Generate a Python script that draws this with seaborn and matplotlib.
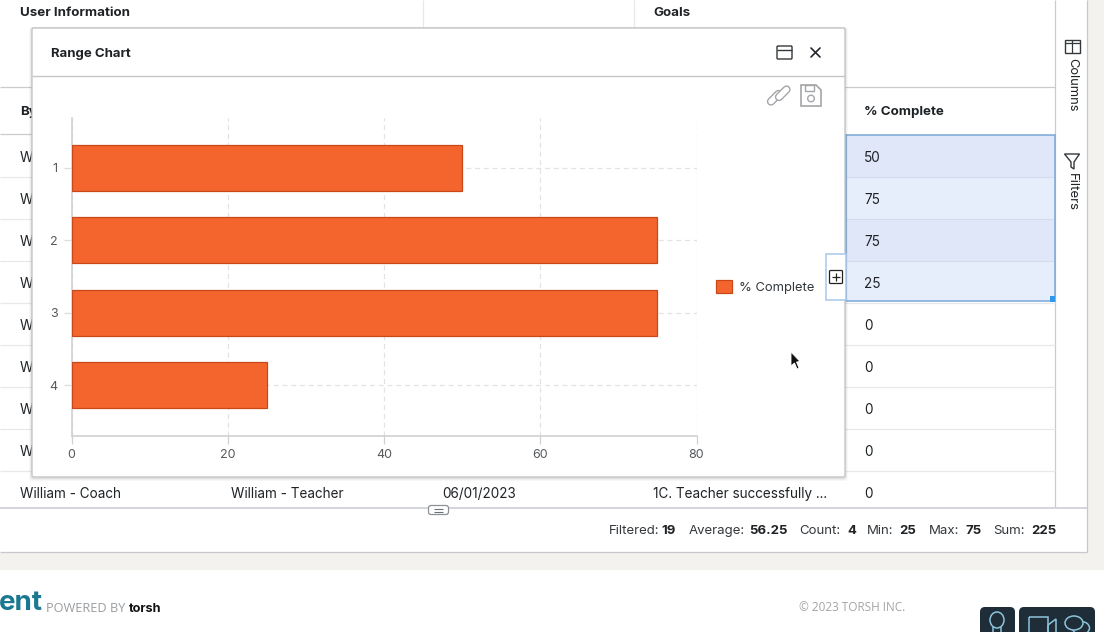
import pandas as pd
import matplotlib
matplotlib.use("Agg")
import matplotlib.pyplot as plt
from matplotlib.patches import Rectangle, FancyBboxPatch, Polygon, Circle, Ellipse
import seaborn as sns

# chart data
categories = ["1", "2", "3", "4"]
pct_complete = [50, 75, 75, 25]
series_name = "% Complete"
x_ticks = [0, 20, 40, 60, 80]

# grid values around the chart
other_cells = ["0", "0", "0", "0", "0"]
footer_labels = ["Average:", "Count:", "Min:", "Max:", "Sum:"]
footer_values = ["56.25", "4", "25", "75", "225"]

sns.set_theme(style="white")
plt.rcParams["font.family"] = ["Inter", "DejaVu Sans"]

W, H = 1104, 632
TXT = "#1f2326"
BAR = "#f4652d"
EDGE = "#c8481a"
LINE = "#c9cbce"
ROW = "#e6e8eb"

fig = plt.figure(figsize=(W / 100, H / 100), dpi=100, facecolor="white")

# page in pixel coordinates
bg = fig.add_axes([0, 0, 1, 1], zorder=0)
bg.set_xlim(0, W)
bg.set_ylim(H, 0)
bg.axis("off")


def hline(y, x0, x1, c=ROW, lw=0.9, z=1):
    bg.plot([x0, x1], [y, y], color=c, lw=lw, zorder=z, solid_capstyle="butt")


def vline(x, y0, y1, c=LINE, lw=0.9, z=1):
    bg.plot([x, x], [y0, y1], color=c, lw=lw, zorder=z, solid_capstyle="butt")


def txt(x, y, s, size=9.75, weight="normal", c=TXT, ha="left", **kw):
    bg.text(x, y, s, fontsize=size, fontweight=weight, color=c, ha=ha, va="center", **kw)


# grey page strip
bg.add_patch(Rectangle((1087, 0), 17, 570, fc="#f3f2ef", ec="none", zorder=0))
bg.add_patch(Rectangle((0, 553), 1104, 17, fc="#f3f2ef", ec="none", zorder=0))
vline(1086.5, 0, 552, c="#c6c8cb")
hline(552, 0, 1087, c="#c6c8cb")

# grid lines
vline(1055, 0, 508)
vline(423, 0, 28, c=ROW)
vline(634, 0, 28, c=ROW)
hline(86.5, 0, 1055, c=LINE)
hline(133.5, 0, 846, c=LINE)
for y in [176.5, 218.5, 260.5, 302.5, 344.5, 386.5, 428.5, 470.5]:
    hline(y, 0, 1055)
hline(507.5, 0, 1087, c="#d3d5d8", lw=1.4)

txt(20, 13, "User Information", weight="bold", size=9.6)
txt(653, 13, "Goals", weight="bold", size=9.6)
txt(20, 112.5, "By", weight="bold", size=9.6)
txt(864.5, 112.5, series_name, weight="bold", size=9.6)
for y in [158, 200, 242, 284, 326, 368, 410, 452]:
    txt(20, y, "W")

# selected range
bg.add_patch(Rectangle((846, 135), 209, 42, fc="#dfe7f9", ec="none", zorder=1))
bg.add_patch(Rectangle((846, 177), 209, 42, fc="#e6edfb", ec="none", zorder=1))
bg.add_patch(Rectangle((846, 219), 209, 42, fc="#dfe7f9", ec="none", zorder=1))
bg.add_patch(Rectangle((846, 261), 209, 40, fc="#e6edfb", ec="none", zorder=1))
bg.add_patch(Rectangle((846, 135), 209, 166, fc="none", ec="#7ba6d8", lw=1.1, zorder=3))
for y in [176.5, 218.5, 260.5]:
    hline(y, 846, 1055, c="#d3dcee", lw=0.8, z=2)
bg.add_patch(Rectangle((1049.5, 296), 5.5, 5.5, fc="#2f97ec", ec="none", zorder=4))
for y, v in zip([158, 200, 242, 284], pct_complete):
    txt(864, y, str(v))
for y, v in zip([326, 368, 410, 452, 494], other_cells):
    txt(864, y, v)

# last row
txt(20, 494, "William - Coach")
txt(231, 494, "William - Teacher")
txt(442, 494, "06/01/2023")
txt(653, 494, "1C. Teacher successfully ...")

# side panel
bg.add_patch(Rectangle((1064.5, 39.5), 15, 13, fc="none", ec="#33383c", lw=1.0, zorder=2))
hline(43, 1064.5, 1079.5, c="#33383c", lw=0.9, z=2)
vline(1072, 39.5, 52.5, c="#33383c", lw=0.9, z=2)
bg.text(1072, 58, "Columns", fontsize=9.3, color=TXT, rotation=270, ha="center", va="top")
bg.add_patch(Polygon([(1064.5, 154), (1079.5, 154), (1074, 162), (1074, 169), (1071, 167), (1071, 162)],
                     closed=True, fc="none", ec="#33383c", lw=1.0, zorder=2))
bg.text(1072, 173, "Filters", fontsize=9.5, color=TXT, rotation=270, ha="center", va="top")

# status bar
txt(608.5, 531, "Filtered:", size=9.5, c="#33383c")
txt(661.5, 531, "19", size=9.5, weight="bold")
for x0, x1, lab, val in zip([689, 799, 867, 929, 993], [749.5, 847, 899, 965, 1031],
                            footer_labels, footer_values):
    txt(x0, 531, lab, size=9.5, c="#33383c")
    txt(x1, 531, val, size=9.5, weight="bold")
bg.add_patch(FancyBboxPatch((428.5, 505.5), 20, 9, boxstyle="round,pad=0,rounding_size=2.5",
                            fc="white", ec="#8d9195", lw=0.9, zorder=4))
hline(509, 434, 443, c="#6d7175", lw=0.8, z=5)
hline(511.5, 434, 443, c="#6d7175", lw=0.8, z=5)

# footer
txt(-1, 603, "ent", size=20, weight="bold", c="#1a7890")
txt(46, 609, "POWERED BY", size=9.2, c="#9a9da0", family=["Open Sans", "DejaVu Sans"])
txt(129, 609, "torsh", size=9.2, weight="bold", c="#111111")
txt(799, 607.5, "© 2023 TORSH INC.", size=8.5, c="#a2a4a6", family=["Open Sans", "DejaVu Sans"])
bg.add_patch(FancyBboxPatch((980, 607), 35, 30, boxstyle="round,pad=0,rounding_size=5",
                            fc="#1f2d38", ec="none", zorder=2))
bg.add_patch(FancyBboxPatch((1019, 607), 76, 30, boxstyle="round,pad=0,rounding_size=5",
                            fc="#1f2d38", ec="none", zorder=2))
bg.add_patch(Ellipse((997, 620), 14, 16, fc="none", ec="#8cc4dc", lw=1.1, zorder=3))
bg.plot([993, 993], [627, 632], color="#8cc4dc", lw=1.1, zorder=3)
bg.plot([1001, 1001], [627, 632], color="#8cc4dc", lw=1.1, zorder=3)
bg.add_patch(Rectangle((1029, 617), 19, 20, fc="none", ec="#8cc4dc", lw=1.1, zorder=3))
bg.add_patch(Polygon([(1048, 625), (1056, 619), (1056, 637), (1048, 632)], closed=True,
                     fc="none", ec="#8cc4dc", lw=1.1, zorder=3))
bg.add_patch(Ellipse((1081, 628), 17, 13, fc="#1f2d38", ec="#8cc4dc", lw=1.1, zorder=3))
bg.add_patch(Ellipse((1074, 623), 18, 14, fc="#1f2d38", ec="#8cc4dc", lw=1.1, zorder=3))

# modal window
for i, a in enumerate([0.03, 0.04, 0.05]):
    bg.add_patch(FancyBboxPatch((32 - 3 + i, 28 - 1), 813 + 6 - 2 * i, 449 + 5 - i,
                                boxstyle="round,pad=0,rounding_size=3",
                                fc="black", ec="none", alpha=a, zorder=5))
bg.add_patch(FancyBboxPatch((32, 28), 813, 449, boxstyle="round,pad=0,rounding_size=2",
                            fc="white", ec="#c4c6c9", lw=1.0, zorder=6))
hline(76, 32, 845, c="#c4c6c9", lw=1.0, z=7)
bg.text(51, 54, "Range Chart", fontsize=9.5, fontweight="bold", color=TXT, va="center", zorder=8)

# window + close icons
bg.add_patch(FancyBboxPatch((777, 46), 15, 13, boxstyle="round,pad=0,rounding_size=1",
                            fc="none", ec="#33383c", lw=1.0, zorder=8))
hline(49.5, 777, 792, c="#33383c", lw=1.0, z=8)
bg.plot([811, 820], [48, 57], color="#22262a", lw=1.2, zorder=8)
bg.plot([820, 811], [48, 57], color="#22262a", lw=1.2, zorder=8)

# link + save icons
for (x0, y0), (x1, y1) in [((771, 101.5), (778.5, 94)), ((779, 97), (786.5, 89.5))]:
    bg.plot([x0, x1], [y0, y1], color="#a3a5a8", lw=6, solid_capstyle="round", zorder=8)
    bg.plot([x0, x1], [y0, y1], color="white", lw=4, solid_capstyle="round", zorder=8)
bg.add_patch(Polygon([(801, 85), (816, 85), (821, 90), (821, 106), (801, 106)], closed=True,
                     fc="none", ec="#a3a5a8", lw=1.2, zorder=8))
bg.add_patch(Rectangle((805, 85), 9, 6, fc="none", ec="#a3a5a8", lw=1.0, zorder=8))
bg.add_patch(Circle((811, 98.5), 3.3, fc="none", ec="#a3a5a8", lw=1.0, zorder=8))

# add-range tab
bg.add_patch(Rectangle((825.5, 254), 20, 46, fc="white", ec="#a9c8ea", lw=1.1, zorder=9))
bg.add_patch(FancyBboxPatch((829.5, 270.5), 13, 13, boxstyle="round,pad=0,rounding_size=1",
                            fc="none", ec="#222222", lw=0.9, zorder=10))
hline(277, 832, 840, c="#222222", lw=0.9, z=10)
vline(836, 273, 281, c="#222222", lw=0.9, z=10)

# mouse pointer
bg.add_patch(Polygon([(791, 352), (791, 366), (794.5, 363), (797, 369), (799, 368),
                      (796.5, 362), (800, 361.5)], closed=True, fc="#111111", ec="white",
                     lw=0.6, zorder=12))

# chart
ax_l, ax_r, ax_t, ax_b = 71.5, 696.5, 117.5, 436
ax = fig.add_axes([ax_l / W, 1 - ax_b / H, (ax_r - ax_l) / W, (ax_b - ax_t) / H], zorder=10)
ax.patch.set_alpha(0)
df = pd.DataFrame({"row": categories, "value": pct_complete, "series": series_name})
sns.barplot(data=df, y="row", x="value", hue="series", order=categories, orient="h",
            palette=[BAR], width=0.634, edgecolor=EDGE, linewidth=0.9, saturation=1,
            ax=ax, zorder=3)
ax.set_xlim(0, 80)
ax.set_ylim(3.70, -0.69)
ax.set_xticks(x_ticks)
ax.set_xlabel("")
ax.set_ylabel("")
ax.grid(True, axis="both", color="#e2e3e5", lw=0.9, ls=(0, (4, 3)), zorder=0)
ax.set_axisbelow(True)
for s in ["top", "right"]:
    ax.spines[s].set_visible(False)
for s in ["left", "bottom"]:
    ax.spines[s].set_color("#cfd1d3")
    ax.spines[s].set_linewidth(1.2)
ax.tick_params(axis="x", length=6, width=0.9, color="#cfd1d3", labelsize=9,
               labelcolor="#55595c", pad=3, bottom=True)
ax.tick_params(axis="y", length=6, width=0.9, color="#dcdddf", labelsize=9,
               labelcolor="#55595c", pad=4, left=True)
leg = ax.legend(loc="center left", bbox_to_anchor=((716 - ax_l) / (ax_r - ax_l), (ax_b - 287) / (ax_b - ax_t)),
                frameon=False, fontsize=9.35, handlelength=1.2, handleheight=1.2,
                handletextpad=0.55, borderpad=0, borderaxespad=0, labelcolor="#33383c")

fig.savefig("out.png", dpi=100)
